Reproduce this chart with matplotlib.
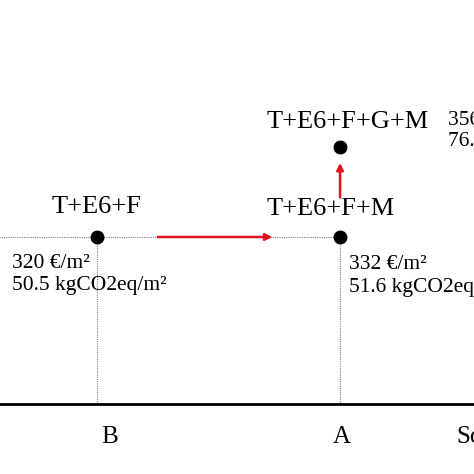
import matplotlib.pyplot as plt

# scenario data
names = ['T+E6+F', 'T+E6+F+M', 'T+E6+F+G+M']
xpos = [1.0, 2.0, 2.0]          # B, A, A
level = [1.0, 1.0, 1.54]        # vertical position of each point
costs = [320, 332, 356]         # €/m2
co2 = [50.5, 51.6, 76.9]        # kgCO2eq/m2
axis_labels = ['B', 'A', 'Scenario']

plt.rcParams['font.family'] = ['Liberation Serif', 'DejaVu Serif']

fig = plt.figure(figsize=(4.74, 4.74), dpi=100)
ax = fig.add_axes([0, 0, 1, 1])
ax.set_xlim(0.601, 2.551)
ax.set_ylim(-0.419, 2.419)
ax.axis('off')

# base axis line
ax.axhline(0, color='black', lw=2)

# dotted guides
ax.plot([0.5, xpos[1]], [level[0], level[1]], ls=(0, (1, 1)), color='gray', lw=0.8, zorder=1)
for i in range(2):
    ax.plot([xpos[i], xpos[i]], [0, level[i]], ls=(0, (1, 1)), color='gray', lw=0.8, zorder=1)

# points
ax.plot(xpos, level, 'o', color='black', ms=9, zorder=3)

# red arrows
ax.annotate('', xy=(1.733, level[0]), xytext=(1.239, level[0]),
            arrowprops=dict(arrowstyle='-|>', color='#e0141e', lw=1.8, mutation_scale=10))
ax.annotate('', xy=(2.0, 1.46), xytext=(2.0, 1.22),
            arrowprops=dict(arrowstyle='-|>', color='#e0141e', lw=1.8, mutation_scale=10))

# scenario names
name_pos = [(1.0, 1.18), (1.963, 1.17), (2.03, 1.69)]
for n, (x, y) in zip(names, name_pos):
    ax.text(x, y, n, ha='center', va='center', fontsize=19)

# values
val_pos = [(0.650, 0.844, 0.707), (2.037, 0.838, 0.695), (2.444, 1.70, 1.57)]
for c, e, (x, y1, y2) in zip(costs, co2, val_pos):
    ax.text(x, y1, f'{c} €/m²', ha='left', va='center', fontsize=15.5)
    ax.text(x, y2, f'{e} kgCO2eq/m²', ha='left', va='center', fontsize=15.5)

# x labels
lab_pos = [(1.053, 'center'), (2.008, 'center'), (2.477, 'left')]
for lab, (x, ha) in zip(axis_labels, lab_pos):
    ax.text(x, -0.198, lab, ha=ha, va='center', fontsize=18)

fig.savefig('out.png', dpi=100)
